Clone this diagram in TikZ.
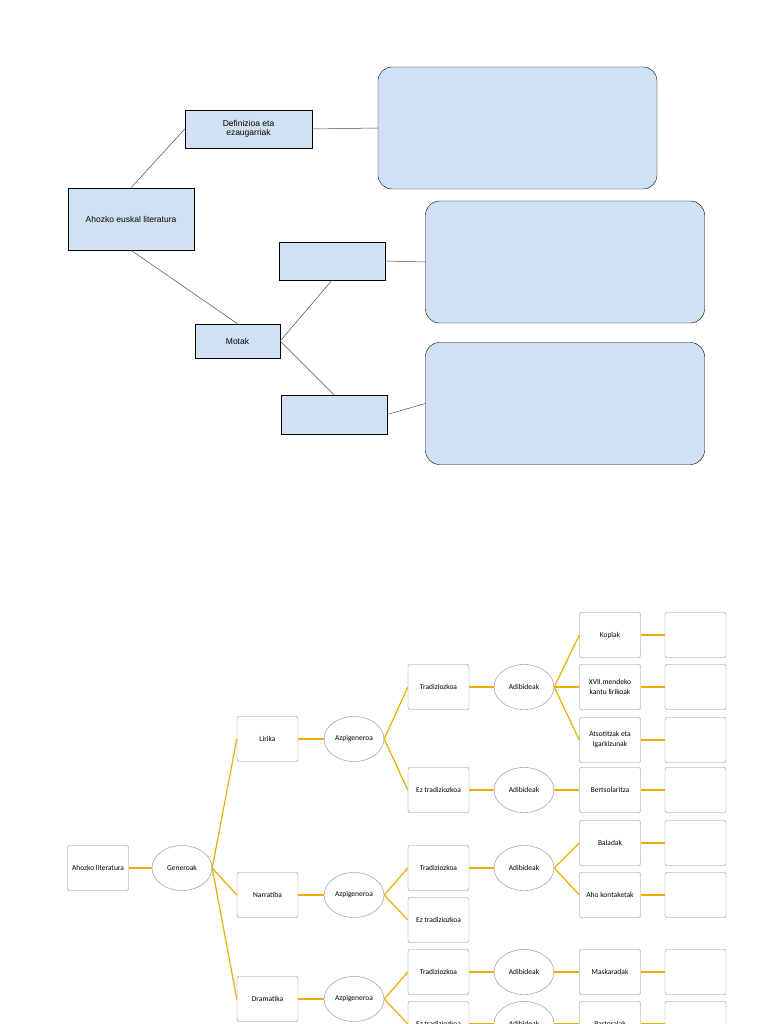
\documentclass[tikz,border=0pt]{standalone}
\usepackage{fontspec}
\setmainfont{Carlito}
\newfontfamily\arialf{Liberation Sans}
\usetikzlibrary{shapes.geometric}
\definecolor{lb}{HTML}{CFE2F3}
\definecolor{gold}{HTML}{E8AE00}
\definecolor{gb}{HTML}{8A8A8A}
\tikzset{
 x=1pt,y=-1pt,
 sq/.style={draw=black,fill=lb,minimum width=#1,inner sep=1pt,align=center,font=\arialf\fontsize{8.5}{9.5}\selectfont},
 rb/.style={draw=black,fill=lb,rounded corners=14pt,minimum width=279pt,minimum height=122pt},
 tl/.style={draw=black!70,line width=0.5pt},
 wb/.style={draw=gb,fill=white,rounded corners=2pt,minimum width=61pt,minimum height=45pt,inner sep=1pt,align=center,font=\fontsize{7.5}{10}\selectfont},
 el/.style={draw=gb,fill=white,ellipse,minimum width=60pt,minimum height=45pt,inner sep=0pt,font=\fontsize{7.5}{9}\selectfont},
 gl/.style={draw=gold,line width=1.2pt}
}
\begin{document}
\begin{tikzpicture}
\useasboundingbox (0,0) rectangle (768,1024);
\begin{scope}
\clip (0,0) rectangle (768,1024);
% top
\node[sq=126pt,minimum height=62pt] (ahe) at (131,219) {Ahozko euskal literatura};
\node[sq=127pt,minimum height=38pt] (def) at (248.5,129) {Definizioa eta\\ezaugarriak};
\node[rb] (r1) at (517.5,128) {};
\node[sq=106pt,minimum height=38pt] (e1) at (332,261) {};
\node[rb] (r2) at (565,262) {};
\node[sq=85pt,minimum height=34pt] (mot) at (237.5,341) {Motak};
\node[sq=106pt,minimum height=39pt] (e2) at (334,414.5) {};
\node[rb] (r3) at (565,403.5) {};
\draw[tl] (ahe.north) -- (def.west);
\draw[tl] (def.east) -- (r1.west);
\draw[tl] (ahe.south) -- (mot.north);
\draw[tl] (mot.east) -- (e1.south);
\draw[tl] (mot.east) -- (e2.north);
\draw[tl] (e1.east) -- (r2.west);
\draw[tl] (e2.east) -- (r3.west);
% bottom
\node[wb] (al) at (98,868) {Ahozko literatura};
\node[el] (gen) at (182,868) {Generoak};
\node[wb] (lir) at (267.5,739) {Lirika};
\node[wb] (nar) at (267.5,895) {Narratiba};
\node[wb] (dra) at (267.5,999) {Dramatika};
\node[el] (az1) at (354,739) {Azpigeneroa};
\node[el] (az2) at (354,895) {Azpigeneroa};
\node[el] (az3) at (354,999) {Azpigeneroa};
\node[wb] (t1) at (438.5,687) {Tradiziozkoa};
\node[wb] (z1) at (438.5,790) {Ez tradiziozkoa};
\node[wb] (t2) at (438.5,868) {Tradiziozkoa};
\node[wb] (z2) at (438.5,920) {Ez tradiziozkoa};
\node[wb] (t3) at (438.5,972) {Tradiziozkoa};
\node[wb] (z3) at (438.5,1024) {Ez tradiziozkoa};
\node[el] (a1) at (524,687) {Adibideak};
\node[el] (a2) at (524,790) {Adibideak};
\node[el] (a3) at (524,868) {Adibideak};
\node[el] (a4) at (524,972) {Adibideak};
\node[el] (a5) at (524,1024) {Adibideak};
\node[wb] (k1) at (610,635) {Koplak};
\node[wb] (k2) at (610,687) {XVII.mendeko\\kantu lirikoak};
\node[wb] (k3) at (610,740) {Atsotitzak eta\\Igarkizunak};
\node[wb] (k4) at (610,790) {Bertsolaritza};
\node[wb] (k5) at (610,843) {Baladak};
\node[wb] (k6) at (610,895) {Aho kontaketak};
\node[wb] (k7) at (610,972) {Maskaradak};
\node[wb] (k8) at (610,1024) {Pastoralak};
\foreach \i/\y in {1/635,2/687,3/740,4/790,5/843,6/895,7/972,8/1024} \node[wb] (x\i) at (695.5,\y) {};
\draw[gl] (al) -- (gen);
\foreach \b in {lir,nar,dra} \draw[gl] (gen.east) -- (\b.west);
\draw[gl] (lir) -- (az1); \draw[gl] (nar) -- (az2); \draw[gl] (dra) -- (az3);
\draw[gl] (az1.east) -- (t1.west); \draw[gl] (az1.east) -- (z1.west);
\draw[gl] (az2.east) -- (t2.west); \draw[gl] (az2.east) -- (z2.west);
\draw[gl] (az3.east) -- (t3.west); \draw[gl] (az3.east) -- (z3.west);
\draw[gl] (t1) -- (a1); \draw[gl] (z1) -- (a2); \draw[gl] (t2) -- (a3);
\draw[gl] (t3) -- (a4); \draw[gl] (z3) -- (a5);
\draw[gl] (a1.east) -- (k1.west); \draw[gl] (a1.east) -- (k2.west); \draw[gl] (a1.east) -- (k3.west);
\draw[gl] (a2) -- (k4);
\draw[gl] (a3.east) -- (k5.west); \draw[gl] (a3.east) -- (k6.west);
\draw[gl] (a4) -- (k7); \draw[gl] (a5) -- (k8);
\foreach \i in {1,...,8} \draw[gl] (k\i) -- (x\i);
\end{scope}
\end{tikzpicture}
\end{document}
